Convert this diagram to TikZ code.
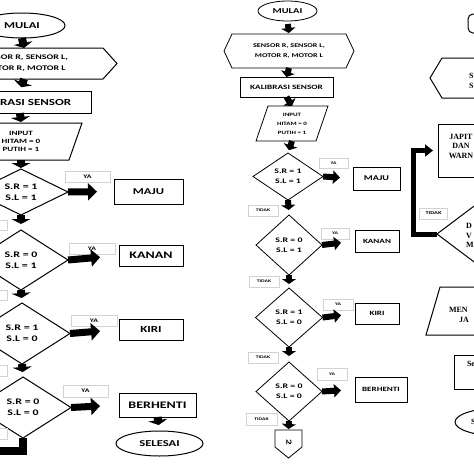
\documentclass[tikz,border=0pt]{standalone}
\usepackage{fontspec}
\usetikzlibrary{shapes.geometric,arrows.meta,positioning}
\newfontfamily\flowfont[FakeStretch=1.4]{Carlito}
\newfontfamily\serffont{Liberation Serif}
\newcommand{\fA}[2]{\flowfont\bfseries\fontsize{#1}{#2}\selectfont}
\newcommand{\fC}[2]{\serffont\bfseries\fontsize{#1}{#2}\selectfont}
% hexagon (preparation) round a plain node
\newcommand{\hexbox}[3]{%
  \draw[#3] (#1.west) -- ([xshift=#2]#1.north west) -- ([xshift=-#2]#1.north east)
    -- (#1.east) -- ([xshift=-#2]#1.south east) -- ([xshift=#2]#1.south west) -- cycle;}
% parallelogram (input) round a plain node
\newcommand{\parabox}[3]{%
  \draw[#3] ([xshift=#2]#1.north west) -- ([xshift=#2]#1.north east)
    -- ([xshift=-#2]#1.south east) -- ([xshift=-#2]#1.south west) -- cycle;}
\begin{document}
\begin{tikzpicture}[x=1pt,y=-1pt,
  every node/.style={outer sep=0pt,inner sep=0pt,align=center},
  lineA/.style={line width=1pt},
  lineB/.style={line width=0.8pt},
  boxA/.style={draw,lineA,rectangle,font=\fA{10}{11}},
  termA/.style={draw,lineA,ellipse,font=\fA{9}{10}},
  decA/.style={draw,lineA,diamond,aspect=2,font=\fA{8.5}{11}},
  lblA/.style={draw=gray!35,line width=0.8pt,fill=white,font=\fA{5.5}{6}},
  downA/.style={line width=8pt,-{Triangle[width=19pt,length=5pt]},shorten >=4pt},
  rightA/.style={line width=7pt,-{Triangle[width=17pt,length=9pt]},shorten >=19pt},
  boxB/.style={draw,lineB,rectangle,font=\fA{6.5}{7}},
  termB/.style={draw,lineB,ellipse,font=\fA{7.5}{8}},
  decB/.style={draw,lineB,diamond,aspect=1.2,font=\fA{7}{10}},
  lblB/.style={draw=gray!35,line width=0.8pt,fill=white,font=\fA{4}{5}},
  downB/.style={line width=6pt,-{Triangle[width=14pt,length=5pt]},shorten >=3pt},
  rightB/.style={line width=6pt,-{Triangle[width=13pt,length=7pt]},shorten >=14pt},
  boxC/.style={draw,lineA,rectangle},
  txtC/.style={font=\fC{8}{9.5}},
  loopC/.style={line width=5pt,-{Triangle[width=12pt,length=8pt]},shorten >=5pt}]
\useasboundingbox (0,0) rectangle (474,474);
\fill[white] (0,0) rectangle (474,474);
\clip (0,0) rectangle (474,474);

% ---- first chart
\node[termA,minimum width=86pt,minimum height=25pt] (startA) at (22,25.5) {MULAI};
\node[minimum width=186pt,minimum height=31pt,font=\fA{7.1}{11}] (hexA) at (24,63.5)
  {SENSOR R, SENSOR L,\\MOTOR R, MOTOR L};
\hexbox{hexA}{14pt}{lineA}
\node[boxA,minimum width=142pt,minimum height=22pt,font=\fA{9.3}{10}] (kalA) at (20,102) {KALIBRASI SENSOR};
\node[minimum width=109pt,minimum height=37pt,font=\fA{6.5}{8}] (inA) at (21,141.5)
  {INPUT\\HITAM = 0\\PUTIH = 1};
\parabox{inA}{6.5pt}{lineA}

\node[decA,minimum width=94pt,minimum height=46pt] (d1A) at (21,192) {S.R = 1\\S.L = 1};
\node[boxA,minimum width=69pt,minimum height=25pt,font=\fA{9}{10}] (majuA) at (148.5,191.5) {MAJU};
\node[decA,minimum width=94pt,minimum height=60pt] (d2A) at (21,260) {S.R = 0\\S.L = 1};
\node[boxA,minimum width=64pt,minimum height=21pt] (kananA) at (151,255.5) {KANAN};
\node[decA,minimum width=96pt,minimum height=61pt] (d3A) at (22,333.5) {S.R = 1\\S.L = 0};
\node[boxA,minimum width=64pt,minimum height=21pt,font=\fA{9.3}{10}] (kiriA) at (151,329.5) {KIRI};
\node[decA,minimum width=96pt,minimum height=61pt] (d4A) at (23,407.5) {S.R = 0\\S.L = 0};
\node[boxA,minimum width=77pt,minimum height=24pt] (berA) at (157.5,405) {BERHENTI};
\node[termA,minimum width=87pt,minimum height=25pt] (selA) at (159.5,443.5) {SELESAI};

\node[lblA,minimum width=45pt,minimum height=11pt] (yaA1) at (87.5,176.5) {YA};
\node[lblA,minimum width=46pt,minimum height=11pt] (yaA2) at (92,248.5) {YA};
\node[lblA,minimum width=46pt,minimum height=11pt] (yaA3) at (94,320.5) {YA};
\node[lblA,minimum width=45pt,minimum height=12pt] (yaA4) at (85.5,391) {YA};
\node[lblA,minimum width=46pt,minimum height=10pt] (tdA1) at (-16,225) {};
\node[lblA,minimum width=46pt,minimum height=10pt] (tdA2) at (-16,295) {};
\node[lblA,minimum width=46pt,minimum height=11pt] (tdA3) at (-16,371) {};
\node[lblA,minimum width=46pt,minimum height=11pt] (tdA4) at (-16,434) {};

\draw[downA,shorten >=0pt] (startA.south) -- (hexA.north);
\draw[downA] (hexA.south) -- (kalA.north);
\draw[downA,shorten >=1pt] (kalA.south) -- (inA.north);
\draw[downA,shorten >=1pt] (inA.south) -- (d1A.north);
\draw[downA,shorten >=6pt] (d1A.south) -- (d2A.north);
\draw[downA,shorten >=5pt] (d2A.south) -- (d3A.north);
\draw[downA,shorten >=5pt] (d3A.south) -- (d4A.north);
\draw[downA,shorten >=6pt] (berA.south) -- (selA.north);
\draw[rightA,shorten >=17pt] (d1A.east) -- (majuA.west);
\draw[rightA] (d2A.east) -- (kananA.west);
\draw[rightA] (d3A.east) -- (kiriA.west);
\draw[rightA] (d4A.east) -- (berA.west);
\draw[line width=8pt] (d4A.south) |- (-10,451);

% ---- second chart
\node[termB,minimum width=59pt,minimum height=20pt] (startB) at (287.5,11) {MULAI};
\node[minimum width=130pt,minimum height=34pt,font=\fA{5.8}{10}] (hexB) at (289,51)
  {SENSOR R, SENSOR L,\\MOTOR R, MOTOR L};
\hexbox{hexB}{8pt}{lineB}
\node[boxB,minimum width=93pt,minimum height=20pt,font=\fA{6.6}{7}] (kalB) at (286.5,87) {KALIBRASI SENSOR};
\node[minimum width=60pt,minimum height=35pt,font=\fA{5}{9}] (inB) at (292,123.5)
  {INPUT\\HITAM = 0\\PUTIH = 1};
\parabox{inB}{6pt}{lineB}

\node[decB,minimum width=70pt,minimum height=47pt] (d1B) at (288,176.5) {S.R = 1\\S.L = 1};
\node[boxB,minimum width=47pt,minimum height=23pt,font=\fA{7.3}{8}] (majuB) at (376.5,178.5) {MAJU};
\node[decB,minimum width=66pt,minimum height=60pt] (d2B) at (289,245) {S.R = 0\\S.L = 1};
\node[boxB,minimum width=44pt,minimum height=22pt] (kananB) at (377,241) {KANAN};
\node[decB,minimum width=67pt,minimum height=59pt] (d3B) at (289,317.5) {S.R = 1\\S.L = 0};
\node[boxB,minimum width=44pt,minimum height=21pt] (kiriB) at (377,313.5) {KIRI};
\node[decB,minimum width=66pt,minimum height=59pt] (d4B) at (289,391.5) {S.R = 0\\S.L = 0};
\node[boxB,minimum width=52pt,minimum height=25pt] (berB) at (381,389.5) {BERHENTI};
\node[minimum width=27pt,minimum height=17pt] (offB) at (288.5,438.5) {};
\draw[lineB] (offB.north west) -- (offB.north east) -- (offB.south east)
  -- ([yshift=-11pt]offB.south) -- (offB.south west) -- cycle;
\node[rotate=-90,font=\fA{8}{8}] (offBtxt) at (289,442) {2};

\node[lblB,minimum width=29pt,minimum height=10pt] (yaB1) at (333.5,163) {YA};
\node[lblB,minimum width=28pt,minimum height=11pt] (yaB2) at (335,233.5) {YA};
\node[lblB,minimum width=30pt,minimum height=11pt] (yaB3) at (338,304.5) {YA};
\node[lblB,minimum width=30pt,minimum height=12pt] (yaB4) at (332,374) {YA};
\node[lblB,minimum width=30pt,minimum height=11pt] (tdB1) at (263,210.5) {TIDAK};
\node[lblB,minimum width=30pt,minimum height=11pt] (tdB2) at (264,281.5) {TIDAK};
\node[lblB,minimum width=30pt,minimum height=11pt] (tdB3) at (263,357.5) {TIDAK};
\node[lblB,minimum width=31pt,minimum height=12pt] (tdB4) at (261.5,419) {TIDAK};

\draw[downB,shorten <=3pt,shorten >=1pt] (startB.south) -- (hexB.north);
\draw[downB,shorten >=0pt] (hexB.south) -- (kalB.north);
\draw[downB,shorten >=0pt] (kalB.south) -- (inB.north);
\draw[downB] (inB.south) -- (d1B.north);
\draw[downB,shorten >=5pt] (d1B.south) -- (d2B.north);
\draw[downB,shorten >=4pt] (d2B.south) -- (d3B.north);
\draw[downB,shorten >=6pt] (d3B.south) -- (d4B.north);
\draw[downB,shorten >=1pt] (d4B.south) -- (offB.north);
\draw[rightB,shorten >=13pt] (d1B.east) -- (majuB.west);
\draw[rightB] (d2B.east) -- (kananB.west);
\draw[rightB] (d3B.east) -- (kiriB.west);
\draw[rightB] (d4B.east) -- (berB.west);

% ---- third chart
\node[boxC,rounded corners=5pt,minimum width=48pt,minimum height=19pt] (startC) at (492,23.5) {};
\node[minimum width=150pt,minimum height=40pt] (hexC) at (505,78) {};
\hexbox{hexC}{12pt}{lineA}
\node[txtC,anchor=west,align=left] (hexCtxt) at (469,81) {S\\S};
\node[boxC,minimum width=134pt,minimum height=53pt] (rectC) at (505,150.5) {};
\node[txtC] (rectCtxt) at (461,146) {JAPIT\\DAN\\WARN};
\node[draw,lineA,diamond,aspect=1.33,minimum width=146pt,minimum height=110pt] (dC) at (510,234) {};
\node[txtC,anchor=west,align=left] (dCtxt) at (466,235.5) {D\\V\\M};
\node[minimum width=174pt,minimum height=48pt] (parC) at (520,311) {};
\parabox{parC}{7pt}{lineA}
\node[txtC,anchor=west,align=left] (parCtxt) at (449,315) {MEN\\\hspace{10pt}JA};
\node[boxC,minimum width=92pt,minimum height=34pt] (stopC) at (500,372) {};
\node[txtC,anchor=west] (stopCtxt) at (467,364) {Se};
\node[draw,lineA,ellipse,minimum width=90pt,minimum height=28pt] (endC) at (500,422) {};
\node[txtC,anchor=west] (endCtxt) at (471,422) {S};
\node[lblB,font=\fA{4.5}{5},minimum width=28pt,minimum height=11pt] (tdC) at (433.5,213.5) {TIDAK};
\draw[loopC] (dC.west) -- ++(-24,0) |- (rectC.west);
\end{tikzpicture}
\end{document}
